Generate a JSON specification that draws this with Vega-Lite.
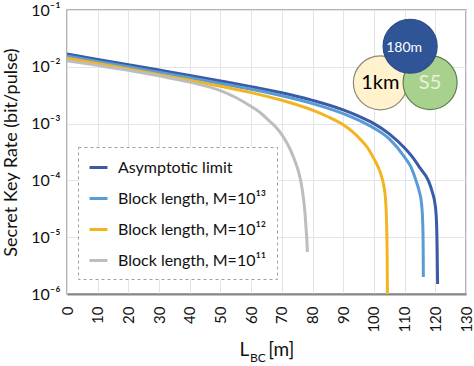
{
  "$schema": "https://vega.github.io/schema/vega-lite/v6.json",
  "width": 399,
  "height": 284,
  "autosize": {"type": "none"},
  "padding": {"left": 67, "top": 10, "right": 8, "bottom": 72},
  "background": "white",
  "config": {
    "font": "Lato",
    "view": {"stroke": "#9a9a9a", "strokeWidth": 1.5},
    "legend": {"strokeDash": [3, 3]},
    "axis": {
      "gridColor": "#e4e4e4",
      "gridWidth": 1,
      "ticks": false,
      "labelColor": "#111",
      "titleColor": "#111",
      "titleFontWeight": "normal",
      "labelFont": "Lato",
      "titleFont": "Lato"
    }
  },
  "datasets": {
    "curves": [
      {"series": "Asymptotic limit", "x": 0, "y": 0.01675},
      {"series": "Asymptotic limit", "x": 10, "y": 0.01349},
      {"series": "Asymptotic limit", "x": 20, "y": 0.01086},
      {"series": "Asymptotic limit", "x": 30, "y": 0.00875},
      {"series": "Asymptotic limit", "x": 40, "y": 0.00705},
      {"series": "Asymptotic limit", "x": 50, "y": 0.00564},
      {"series": "Asymptotic limit", "x": 60, "y": 0.00448},
      {"series": "Asymptotic limit", "x": 70, "y": 0.00348},
      {"series": "Asymptotic limit", "x": 80, "y": 0.00256},
      {"series": "Asymptotic limit", "x": 90, "y": 0.00174},
      {"series": "Asymptotic limit", "x": 95, "y": 0.00135},
      {"series": "Asymptotic limit", "x": 100, "y": 0.001},
      {"series": "Asymptotic limit", "x": 105, "y": 0.000661},
      {"series": "Asymptotic limit", "x": 110, "y": 0.000372},
      {"series": "Asymptotic limit", "x": 113, "y": 0.00024},
      {"series": "Asymptotic limit", "x": 115, "y": 0.000166},
      {"series": "Asymptotic limit", "x": 117.7, "y": 0.0001},
      {"series": "Asymptotic limit", "x": 119, "y": 0.0000631},
      {"series": "Asymptotic limit", "x": 120, "y": 0.0000355},
      {"series": "Asymptotic limit", "x": 120.4, "y": 0.0000178},
      {"series": "Asymptotic limit", "x": 120.6, "y": 0.0000063},
      {"series": "Asymptotic limit", "x": 120.75, "y": 0.0000015},

      {"series": "Block length, M=10¹³", "x": 0, "y": 0.01545},
      {"series": "Block length, M=10¹³", "x": 10, "y": 0.01242},
      {"series": "Block length, M=10¹³", "x": 20, "y": 0.00998},
      {"series": "Block length, M=10¹³", "x": 30, "y": 0.008},
      {"series": "Block length, M=10¹³", "x": 40, "y": 0.00641},
      {"series": "Block length, M=10¹³", "x": 50, "y": 0.0051},
      {"series": "Block length, M=10¹³", "x": 60, "y": 0.00402},
      {"series": "Block length, M=10¹³", "x": 70, "y": 0.00309},
      {"series": "Block length, M=10¹³", "x": 80, "y": 0.00225},
      {"series": "Block length, M=10¹³", "x": 90, "y": 0.0015},
      {"series": "Block length, M=10¹³", "x": 95, "y": 0.00115},
      {"series": "Block length, M=10¹³", "x": 100, "y": 0.000832},
      {"series": "Block length, M=10¹³", "x": 105, "y": 0.000537},
      {"series": "Block length, M=10¹³", "x": 110, "y": 0.000257},
      {"series": "Block length, M=10¹³", "x": 112, "y": 0.000174},
      {"series": "Block length, M=10¹³", "x": 113.7, "y": 0.0001},
      {"series": "Block length, M=10¹³", "x": 114.8, "y": 0.0000631},
      {"series": "Block length, M=10¹³", "x": 115.5, "y": 0.0000398},
      {"series": "Block length, M=10¹³", "x": 115.9, "y": 0.0000178},
      {"series": "Block length, M=10¹³", "x": 116.05, "y": 0.0000063},
      {"series": "Block length, M=10¹³", "x": 116.1, "y": 0.000002},

      {"series": "Block length, M=10¹²", "x": 0, "y": 0.01422},
      {"series": "Block length, M=10¹²", "x": 10, "y": 0.0114},
      {"series": "Block length, M=10¹²", "x": 20, "y": 0.00912},
      {"series": "Block length, M=10¹²", "x": 30, "y": 0.00728},
      {"series": "Block length, M=10¹²", "x": 40, "y": 0.00578},
      {"series": "Block length, M=10¹²", "x": 50, "y": 0.00455},
      {"series": "Block length, M=10¹²", "x": 60, "y": 0.00351},
      {"series": "Block length, M=10¹²", "x": 70, "y": 0.00257},
      {"series": "Block length, M=10¹²", "x": 80, "y": 0.00172},
      {"series": "Block length, M=10¹²", "x": 85, "y": 0.00132},
      {"series": "Block length, M=10¹²", "x": 90, "y": 0.000955},
      {"series": "Block length, M=10¹²", "x": 93, "y": 0.000724},
      {"series": "Block length, M=10¹²", "x": 96, "y": 0.000501},
      {"series": "Block length, M=10¹²", "x": 98, "y": 0.000372},
      {"series": "Block length, M=10¹²", "x": 100, "y": 0.00024},
      {"series": "Block length, M=10¹²", "x": 101.5, "y": 0.000166},
      {"series": "Block length, M=10¹²", "x": 102.5, "y": 0.000117},
      {"series": "Block length, M=10¹²", "x": 103.3, "y": 0.0000759},
      {"series": "Block length, M=10¹²", "x": 103.8, "y": 0.0000447},
      {"series": "Block length, M=10¹²", "x": 104.1, "y": 0.00002},
      {"series": "Block length, M=10¹²", "x": 104.3, "y": 0.000005},
      {"series": "Block length, M=10¹²", "x": 104.4, "y": 0.000001},

      {"series": "Block length, M=10¹¹", "x": 0, "y": 0.01276},
      {"series": "Block length, M=10¹¹", "x": 10, "y": 0.01059},
      {"series": "Block length, M=10¹¹", "x": 20, "y": 0.00871},
      {"series": "Block length, M=10¹¹", "x": 30, "y": 0.00692},
      {"series": "Block length, M=10¹¹", "x": 40, "y": 0.00537},
      {"series": "Block length, M=10¹¹", "x": 50, "y": 0.0038},
      {"series": "Block length, M=10¹¹", "x": 55, "y": 0.00288},
      {"series": "Block length, M=10¹¹", "x": 60, "y": 0.002},
      {"series": "Block length, M=10¹¹", "x": 63, "y": 0.00155},
      {"series": "Block length, M=10¹¹", "x": 66, "y": 0.0011},
      {"series": "Block length, M=10¹¹", "x": 68, "y": 0.000871},
      {"series": "Block length, M=10¹¹", "x": 69.4, "y": 0.000708},
      {"series": "Block length, M=10¹¹", "x": 71, "y": 0.000525},
      {"series": "Block length, M=10¹¹", "x": 72.5, "y": 0.000372},
      {"series": "Block length, M=10¹¹", "x": 74, "y": 0.00024},
      {"series": "Block length, M=10¹¹", "x": 75.3, "y": 0.000151},
      {"series": "Block length, M=10¹¹", "x": 76.3, "y": 0.0000891},
      {"series": "Block length, M=10¹¹", "x": 77, "y": 0.0000501},
      {"series": "Block length, M=10¹¹", "x": 77.5, "y": 0.0000282},
      {"series": "Block length, M=10¹¹", "x": 77.9, "y": 0.0000141},
      {"series": "Block length, M=10¹¹", "x": 78.2, "y": 0.00000794},
      {"series": "Block length, M=10¹¹", "x": 78.3, "y": 0.0000055}
    ],
    "circles": [
      {"name": "1km", "x": 102.1, "y": 0.00522},
      {"name": "S5", "x": 118.3, "y": 0.00527},
      {"name": "180m", "x": 111.8, "y": 0.023}
    ]
  },
  "encoding": {
    "x": {
      "field": "x", "type": "quantitative",
      "scale": {"domain": [0, 130], "nice": false, "zero": false},
      "axis": {
        "values": [0, 10, 20, 30, 40, 50, 60, 70, 80, 90, 100, 110, 120, 130],
        "labelAngle": 270,
        "labelFontSize": 15,
        "labelPadding": 12,
        "labelFlush": false,
        "labelOverlap": false,
        "domainColor": "#888",
        "domainWidth": 2,
        "title": "L\u00a0\u00a0\u00a0\u00a0[m]",
        "titleFontSize": 19,
        "titlePadding": 8
      }
    },
    "y": {
      "field": "y", "type": "quantitative",
      "scale": {"type": "log", "domain": [0.000001, 0.1], "nice": false},
      "axis": {
        "values": [0.000001, 0.00001, 0.0001, 0.001, 0.01, 0.1],
        "labelExpr": "'10' + ['⁻¹','⁻²','⁻³','⁻⁴','⁻⁵','⁻⁶'][-round(log(datum.value)/LN10)-1]",
        "labelFontSize": 16,
        "labelPadding": 7,
        "labelOverlap": false,
        "domain": false,
        "title": "Secret Key Rate (bit/pulse)",
        "titleFontSize": 18,
        "titlePadding": 10
      }
    }
  },
  "layer": [
    {
      "data": {"name": "curves"},
      "mark": {"type": "line", "strokeWidth": 3, "interpolate": "monotone", "clip": true},
      "encoding": {
        "color": {
          "field": "series", "type": "nominal",
          "scale": {
            "domain": ["Asymptotic limit", "Block length, M=10¹³", "Block length, M=10¹²", "Block length, M=10¹¹"],
            "range": ["#3A5CA8", "#5B9BD5", "#F2B521", "#BDBDBD"]
          },
          "legend": {
            "orient": "none",
            "legendX": 11,
            "legendY": 137,
            "title": null,
            "symbolType": "stroke",
            "symbolSize": 324,
            "symbolStrokeWidth": 3,
            "labelFontSize": 16,
            "labelFont": "Lato",
            "labelColor": "#111",
            "labelOffset": 9,
            "rowPadding": 12,
            "padding": 10,
            "strokeColor": "#a0a0a0",
            "fillColor": "white"
          }
        },
        "order": {"field": "series", "sort": "ascending"}
      }
    },
    {
      "data": {"name": "circles"},
      "mark": {"type": "point", "shape": "circle", "filled": true, "size": 2916, "opacity": 1, "strokeWidth": 1.2},
      "encoding": {
        "fill": {
          "field": "name", "type": "nominal",
          "scale": {"domain": ["1km", "S5", "180m"], "range": ["#FFF2CC", "#A9D18E", "#2F5597"]},
          "legend": null
        },
        "stroke": {
          "field": "name", "type": "nominal",
          "scale": {"domain": ["1km", "S5", "180m"], "range": ["#8C8A7A", "#5E7F4C", "#2A4A88"]},
          "legend": null
        }
      }
    },
    {
      "data": {"name": "circles"},
      "transform": [{"filter": "datum.name == '180m'"}],
      "mark": {"type": "text", "fontSize": 14, "color": "white", "dx": -6, "dy": 2, "font": "Lato"},
      "encoding": {"text": {"field": "name"}}
    },
    {
      "data": {"name": "circles"},
      "transform": [{"filter": "datum.name == '1km'"}],
      "mark": {"type": "text", "fontSize": 20, "color": "black", "font": "Lato"},
      "encoding": {"text": {"field": "name"}}
    },
    {
      "data": {"name": "circles"},
      "transform": [{"filter": "datum.name == 'S5'"}],
      "mark": {"type": "text", "fontSize": 20, "color": "#E6F2DC", "font": "Lato"},
      "encoding": {"text": {"field": "name"}}
    },
    {
      "data": {"values": [{"t": "BC", "x": 59.6, "y": 0.000000075}]},
      "mark": {"type": "text", "fontSize": 12, "color": "#111", "font": "Lato", "align": "left"},
      "encoding": {"text": {"field": "t"}}
    }
  ]
}
